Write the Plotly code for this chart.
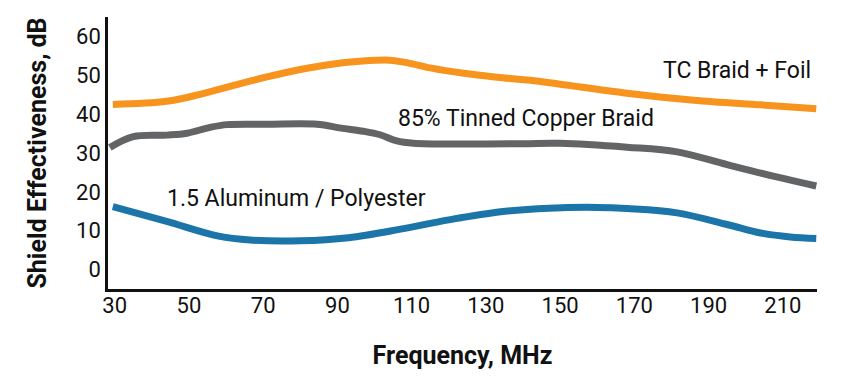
import plotly.graph_objects as go

# Data
foil_x = [29.5, 44, 53, 62, 71, 80, 88, 96, 104, 109, 115, 124, 133, 142, 150, 168, 186, 204, 219]
foil_y = [42.5, 43.3, 45.1, 47.4, 49.6, 51.5, 52.8, 53.6, 53.9, 53.2, 51.9, 50.5, 49.5, 48.7, 47.7, 45.4, 43.6, 42.4, 41.4]

braid_x = [28.7, 35, 44, 49.5, 55.7, 60.3, 71, 84.5, 91, 97, 101.5, 106, 110.5, 124, 140, 150, 168, 181.5, 195, 208, 219]
braid_y = [31.4, 34.2, 34.6, 35.1, 36.6, 37.3, 37.4, 37.4, 36.4, 35.6, 34.7, 33.1, 32.5, 32.3, 32.4, 32.5, 31.5, 30.3, 27.0, 23.9, 21.5]

alu_x = [29.5, 44, 58, 66.5, 80, 93, 107, 120, 134, 147, 160, 168, 181.5, 195, 204, 212, 219]
alu_y = [16.2, 12.4, 8.6, 7.6, 7.4, 8.2, 10.4, 12.8, 14.9, 15.8, 16.0, 15.7, 14.6, 11.6, 9.4, 8.4, 8.0]

x_ticks = [30, 50, 70, 90, 110, 130, 150, 170, 190, 210]
y_ticks = [0, 10, 20, 30, 40, 50, 60]

series_names = ["TC Braid + Foil", "85% Tinned Copper Braid", "1.5 Aluminum / Polyester"]
colors = ["#F7941D", "#636466", "#1B75A9"]

FONT = "Roboto"
TXT = "#111111"

fig = go.Figure()
for xs, ys, name, col in zip([foil_x, braid_x, alu_x], [foil_y, braid_y, alu_y], series_names, colors):
    fig.add_trace(go.Scatter(x=xs, y=ys, mode="lines", name=name,
                             line=dict(color=col, width=7, shape="spline", smoothing=1.0),
                             hoverinfo="skip"))

# Label annotations (data coordinates)
fig.add_annotation(x=218.1, y=51.3, text=series_names[0], showarrow=False,
                   xanchor="right", yanchor="middle", font=dict(family=FONT, size=23, color=TXT))
fig.add_annotation(x=105.8, y=38.9, text=series_names[1], showarrow=False,
                   xanchor="left", yanchor="middle", font=dict(family=FONT, size=23, color=TXT))
fig.add_annotation(x=43.6, y=18.3, text=series_names[2], showarrow=False,
                   xanchor="left", yanchor="middle", font=dict(family=FONT, size=23, color=TXT))

# The page body adds an 8px offset, so the figure is sized to fit the window after it.
fig.update_layout(
    width=842, height=378,
    margin=dict(l=100, r=33, t=9, b=97),
    paper_bgcolor="white", plot_bgcolor="white",
    showlegend=False,
    font=dict(family=FONT, color=TXT),
    xaxis=dict(range=[28.2, 219.2], tickvals=x_ticks, ticktext=[str(v) for v in x_ticks],
               showgrid=False, zeroline=False, showline=True, linecolor=TXT, linewidth=2.5,
               ticks="", ticklabelstandoff=-5, automargin=False,
               tickfont=dict(family=FONT, size=22, color=TXT),
               title=dict(text="<b>Frequency, MHz</b>", font=dict(family=FONT, size=25, color=TXT),
                          standoff=30)),
    yaxis=dict(range=[-5, 65], tickvals=y_ticks, ticktext=[str(v) for v in y_ticks],
               showgrid=False, zeroline=False, showline=True, linecolor=TXT, linewidth=2.5,
               ticks="", ticklabelstandoff=0, automargin=False,
               tickfont=dict(family=FONT, size=22, color=TXT),
               title=dict(text="<b>Shield Effectiveness, dB</b>", font=dict(family=FONT, size=25, color=TXT),
                          standoff=23)),
)

fig.write_html("out.html")
